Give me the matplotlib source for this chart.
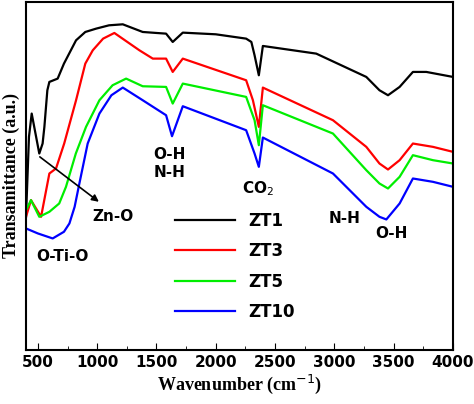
import matplotlib
matplotlib.use("Agg")
import matplotlib.pyplot as plt

zt1_x = [400,425,448,480,512,540,555,580,597,667,720,822,900,991,1100,1216,1384,1500,1581,1637,1722,2000,2256,2300,2327,2363,2397,2847,3269,3380,3452,3550,3662,3775,4000]
zt1_y = [400,640,710,650,590,620,670,780,805,815,860,930,955,965,975,978,955,952,950,925,953,948,935,925,885,825,913,890,820,780,765,790,835,835,820]
zt3_x = [400,442,527,597,653,722,822,900,963,1050,1145,1356,1469,1581,1637,1722,2256,2313,2363,2397,2988,3269,3380,3452,3550,3662,3831,4000]
zt3_y = [400,450,400,530,545,620,750,860,900,935,952,900,875,875,835,875,810,750,670,788,690,610,560,542,570,620,610,595]
zt5_x = [400,442,512,597,680,737,820,906,1019,1130,1244,1384,1581,1637,1722,2256,2327,2363,2397,2988,3269,3380,3452,3550,3662,3831,4000]
zt5_y = [420,450,400,415,440,490,590,670,750,795,815,792,790,740,800,760,690,615,735,650,540,500,485,520,585,570,560]
zt10_x = [400,500,625,720,766,810,850,920,1019,1120,1216,1384,1581,1631,1722,2256,2327,2363,2397,2988,3269,3380,3438,3550,3662,3831,4000]
zt10_y = [365,350,335,355,380,430,500,620,710,765,788,750,705,642,732,660,590,550,638,530,430,400,392,440,515,505,490]

fig = plt.figure(figsize=(4.74,4.04), dpi=100)
ax = fig.add_axes([26/474, 54/404, 427/474, 348/404])
ax.plot(zt1_x, zt1_y, color='black', lw=1.6, label='ZT1')
ax.plot(zt3_x, zt3_y, color='#ff0000', lw=1.6, label='ZT3')
ax.plot(zt5_x, zt5_y, color='#00ee00', lw=1.6, label='ZT5')
ax.plot(zt10_x, zt10_y, color='#0000ff', lw=1.6, label='ZT10')
ax.set_xlim(400,4000)
ax.set_ylim(0,1045)
ax.set_yticks([])
ax.set_xticks([500,1000,1500,2000,2500,3000,3500,4000])
ax.set_xticks(range(750,4000,500), minor=True)
ax.tick_params(axis='x', which='both', direction='in', labelsize=11)
ax.tick_params(axis='x', which='major', length=5)
ax.tick_params(axis='x', which='minor', length=3)
for l in ax.get_xticklabels():
    l.set_fontweight('bold')
for s in ax.spines.values():
    s.set_linewidth(1.5)
ax.set_xlabel('Wavenumber (cm$^{-1}$)', family='Liberation Serif', fontweight='bold', fontsize=13, labelpad=2)
ax.set_ylabel('Transamittance (a.u.)', family='Liberation Serif', fontweight='bold', fontsize=13, labelpad=4)
kw = dict(fontsize=11, fontweight='bold', ha='center', va='center')
ax.text(1131, 400, 'Zn-O', **kw)
ax.annotate('', xy=(1033,440), xytext=(498,585), arrowprops=dict(arrowstyle='-|>', color='black', lw=1.2))
ax.text(709, 280, 'O-Ti-O', **kw)
ax.text(1609, 560, 'O-H\nN-H', linespacing=1.3, **kw)
ax.text(2355, 485, 'CO$_2$', **kw)
ax.text(3086, 395, 'N-H', **kw)
ax.text(3480, 350, 'O-H', **kw)
leg = ax.legend(loc='center', bbox_to_anchor=(0.49, 0.24), frameon=False, prop=dict(size=12, weight='bold'), handlelength=3.6, labelspacing=0.75)
fig.savefig('out.png', dpi=100)
